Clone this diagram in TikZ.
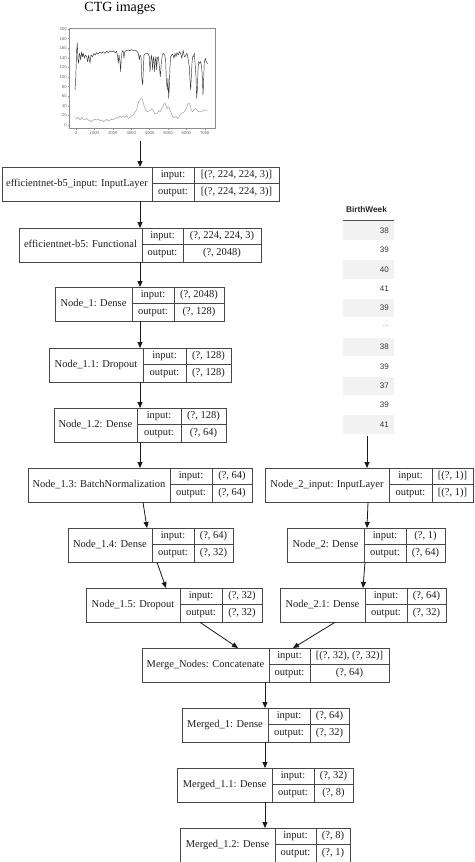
\documentclass[tikz,border=0pt]{standalone}
\usepackage{fontspec}
\setmainfont{Liberation Serif}
\newfontfamily\sansf{Liberation Sans}
\usetikzlibrary{arrows.meta}
\tikzset{
  boxline/.style={draw=black!72, line width=0.8pt},
  txt/.style={inner sep=0pt, font=\fontsize{10.5}{12}\selectfont, text=black!88, text height=7.2pt, text depth=2.3pt},
  arr/.style={draw=black!90, line width=0.8pt, -{Triangle[length=6pt,width=5pt]}},
  ticklab/.style={inner sep=0pt, font=\sansf\fontsize{4.2}{5}\selectfont, text=black!60},
  rowlab/.style={inner sep=0pt, anchor=east, font=\sansf\fontsize{8}{9}\selectfont, text=black!80},
  rowfill/.style={fill=black!5},
}
\newcommand\layer[9]{%
  \node[boxline, anchor=north west, minimum width={#6pt-#2pt}, minimum height=33.5pt, inner sep=0pt] (#1) at (#2,#3) {};
  \draw[boxline] (#4,#3) -- (#4,{#3+33.5}) (#5,#3) -- (#5,{#3+33.5}) (#4,{#3+16.75}) -- (#6,{#3+16.75});
  \node[txt] (#1-t) at ({(#2+#4)/2},{#3+16.75}) {#7};
  \node[txt] (#1-il) at ({(#4+#5)/2},{#3+8.5}) {input:};
  \node[txt] (#1-ol) at ({(#4+#5)/2},{#3+25.2}) {output:};
  \node[txt] (#1-iv) at ({(#5+#6)/2},{#3+8.5}) {#8};
  \node[txt] (#1-ov) at ({(#5+#6)/2},{#3+25.2}) {#9};
}
\begin{document}
\begin{tikzpicture}[x=1pt,y=-1pt]
\useasboundingbox[fill=white] (0,0) rectangle (474,862);

% title
\node[inner sep=0pt, font=\fontsize{14}{16}\selectfont] (title) at (120,8) {CTG images};

% ---- chart ----
\draw[black!45, line width=0.5pt] (69.5,28) rectangle (215.5,128);
\foreach \v in {0,20,...,200}{
  \draw[black!45, line width=0.4pt] (69.5,{125-0.48*\v}) -- (67.8,{125-0.48*\v});
  \node[ticklab, anchor=east] (yl\v) at (66.8,{125-0.48*\v}) {\v};
}
\foreach \k in {0,...,7}{
  \draw[black!45, line width=0.4pt] ({76+18.4*\k},128) -- ({76+18.4*\k},129.7);
  \pgfmathtruncatemacro\lab{1000*\k}
  \node[ticklab] (xl\k) at ({76+18.4*\k},133) {\lab};
}
\begin{scope}[shift={(50pt,-30pt)}, x=0.3333pt, y=-0.3333pt]
\draw[black!35, line width=0.55pt, line join=round] (75,263) -- (80,267) -- (85,262) -- (90,270) -- (95,262) -- (100,268) -- (105,270) -- (110,265) -- (115,270) -- (120,272) -- (125,275) -- (130,270) -- (135,268) -- (140,270) -- (145,268) -- (150,272) -- (155,270) -- (160,275) -- (165,272) -- (170,268) -- (175,272) -- (180,270) -- (185,268) -- (190,270) -- (195,265) -- (200,262) -- (205,265) -- (210,258) -- (215,262) -- (220,258) -- (225,262) -- (230,256) -- (235,265) -- (240,262) -- (245,258) -- (250,255) -- (255,245) -- (260,240) -- (263,225) -- (266,215) -- (270,210) -- (273,205) -- (276,207) -- (279,215) -- (283,230) -- (287,240) -- (292,245) -- (297,243) -- (302,240) -- (306,236) -- (310,242) -- (314,252) -- (318,250) -- (322,248) -- (326,242) -- (330,245) -- (334,238) -- (338,230) -- (342,222) -- (345,220) -- (348,228) -- (352,235) -- (355,230) -- (358,234) -- (362,245) -- (366,255) -- (370,263) -- (374,262) -- (378,260) -- (382,265) -- (386,262) -- (390,255) -- (394,250) -- (398,248) -- (402,246) -- (406,240) -- (410,232) -- (414,222) -- (418,220) -- (421,228) -- (424,240) -- (428,245) -- (432,238) -- (436,236) -- (440,238) -- (444,244) -- (448,245) -- (452,244) -- (456,244) -- (460,242) -- (464,240) -- (468,240) -- (472,242);
\draw[black!80, line width=0.45pt, line join=round] (75,180) -- (77,150) -- (78,120) -- (80,60) -- (82,40) -- (84,90) -- (86,100) -- (88,70) -- (90,75) -- (92,90) -- (95,65) -- (97,80) -- (100,70) -- (103,85) -- (106,75) -- (110,80) -- (113,95) -- (116,75) -- (120,100) -- (123,75) -- (128,80) -- (132,70) -- (136,75) -- (140,68) -- (145,72) -- (150,66) -- (155,70) -- (160,65) -- (165,70) -- (170,64) -- (175,68) -- (180,62) -- (185,66) -- (190,62) -- (195,68) -- (200,64) -- (203,80) -- (205,100) -- (207,75) -- (210,95) -- (212,125) -- (214,80) -- (217,62) -- (220,66) -- (222,85) -- (224,65) -- (228,62) -- (235,60) -- (240,62) -- (245,59) -- (250,62) -- (255,60) -- (260,63) -- (265,70) -- (268,90) -- (270,75) -- (273,80) -- (275,135) -- (276,150) -- (278,165) -- (280,120) -- (282,75) -- (285,72) -- (290,70) -- (295,72) -- (298,80) -- (300,125) -- (302,100) -- (304,75) -- (306,90) -- (308,120) -- (310,80) -- (312,90) -- (314,125) -- (316,90) -- (318,80) -- (320,120) -- (322,85) -- (325,80) -- (328,110) -- (331,140) -- (334,100) -- (337,75) -- (340,70) -- (344,75) -- (347,90) -- (349,150) -- (352,180) -- (354,145) -- (356,205) -- (358,170) -- (360,110) -- (362,80) -- (365,75) -- (368,72) -- (372,85) -- (375,70) -- (378,80) -- (381,68) -- (385,75) -- (388,65) -- (392,70) -- (395,85) -- (398,70) -- (400,62) -- (403,80) -- (405,80) -- (408,75) -- (411,70) -- (414,85) -- (418,110) -- (420,150) -- (422,180) -- (424,140) -- (426,100) -- (428,80) -- (430,80) -- (433,70) -- (436,110) -- (438,140) -- (440,205) -- (442,180) -- (444,120) -- (446,95) -- (449,100) -- (452,95) -- (455,110) -- (457,140) -- (459,195) -- (461,150) -- (463,95) -- (466,85) -- (469,95) -- (472,100) -- (474,100);
\end{scope}
\coordinate (chartout) at (140,141);

% ---- table ----
\node[inner sep=0pt, font=\sansf\bfseries\fontsize{8.3}{9}\selectfont, text=black!85] (thead) at (366.5,210) {BirthWeek};
\draw[black!70, line width=1pt] (343,220) -- (394,220);
\foreach \i in {0,2,4,6,8,10}{
  \fill[rowfill] (343,{230.5+19.4*\i-9.2}) rectangle (394,{230.5+19.4*\i+9.2});
}
\node[rowlab] (r0) at (389,230.5) {38};
\node[rowlab] (r1) at (389,249.9) {39};
\node[rowlab] (r2) at (389,269.3) {40};
\node[rowlab] (r3) at (389,288.7) {41};
\node[rowlab] (r4) at (389,308.1) {39};
\node[rowlab, text=black!40] (r5) at (389,326.5) {...};
\node[rowlab] (r6) at (389,346.9) {38};
\node[rowlab] (r7) at (389,366.3) {39};
\node[rowlab] (r8) at (389,385.7) {37};
\node[rowlab] (r9) at (389,405.1) {39};
\node[rowlab] (r10) at (389,424.5) {41};
\coordinate (tabout) at (367,436);

% ---- layers ----
\layer{b0}{2}{167}{152}{194}{279}{efficientnet-b5\_input: InputLayer}{[(?, 224, 224, 3)]}{[(?, 224, 224, 3)]}
\layer{b1}{19}{228}{142}{183}{261}{efficientnet-b5: Functional}{(?, 224, 224, 3)}{(?, 2048)}
\layer{n1}{55}{287}{132}{174}{224}{Node\_1: Dense}{(?, 2048)}{(?, 128)}
\layer{n11}{49}{348}{143}{186}{231}{Node\_1.1: Dropout}{(?, 128)}{(?, 128)}
\layer{n12}{54}{408}{137}{181}{226}{Node\_1.2: Dense}{(?, 128)}{(?, 64)}
\layer{n13}{28}{468}{170}{212}{252}{Node\_1.3: BatchNormalization}{(?, 64)}{(?, 64)}
\layer{n14}{68}{528}{152}{194}{233}{Node\_1.4: Dense}{(?, 64)}{(?, 32)}
\layer{n15}{86}{588}{180}{222}{262}{Node\_1.5: Dropout}{(?, 32)}{(?, 32)}
\layer{n2i}{265}{468}{389}{432}{473}{Node\_2\_input: InputLayer}{[(?, 1)]}{[(?, 1)]}
\layer{n2}{287}{528}{364}{406}{445}{Node\_2: Dense}{(?, 1)}{(?, 64)}
\layer{n21}{280}{588}{365}{407}{446}{Node\_2.1: Dense}{(?, 64)}{(?, 32)}
\layer{m}{142}{648}{269}{310}{389}{Merge\_Nodes: Concatenate}{[(?, 32), (?, 32)]}{(?, 64)}
\layer{m1}{182}{708}{268}{310}{349}{Merged\_1: Dense}{(?, 64)}{(?, 32)}
\layer{m11}{177}{768}{272}{314}{353}{Merged\_1.1: Dense}{(?, 32)}{(?, 8)}
\layer{m12}{180}{828}{275}{316}{350}{Merged\_1.2: Dense}{(?, 8)}{(?, 1)}

% ---- connectors ----
\draw[arr] (chartout) -- ([xshift=138pt]b0.north west);
\draw[arr] ([xshift=138pt]b0.south west) -- ([xshift=121pt]b1.north west);
\draw[arr] ([xshift=121pt]b1.south west) -- ([xshift=85pt]n1.north west);
\draw[arr] ([xshift=85pt]n1.south west) -- ([xshift=91pt]n11.north west);
\draw[arr] ([xshift=91pt]n11.south west) -- ([xshift=86pt]n12.north west);
\draw[arr] ([xshift=86pt]n12.south west) -- ([xshift=112pt]n13.north west);
\draw[arr] ([xshift=115pt]n13.south west) -- ([xshift=79pt]n14.north west);
\draw[arr] ([xshift=89pt]n14.south west) -- ([xshift=80pt]n15.north west);
\draw[arr] ([xshift=114pt]n15.south west) -- ([xshift=96pt]m.north west);
\draw[arr] (tabout) -- ([xshift=102pt]n2i.north west);
\draw[arr] ([xshift=103pt]n2i.south west) -- ([xshift=80pt]n2.north west);
\draw[arr] ([xshift=78pt]n2.south west) -- ([xshift=83pt]n21.north west);
\draw[arr] ([xshift=55pt]n21.south west) -- ([xshift=151pt]m.north west);
\draw[arr] ([xshift=123pt]m.south west) -- ([xshift=83pt]m1.north west);
\draw[arr] ([xshift=83pt]m1.south west) -- ([xshift=88pt]m11.north west);
\draw[arr] ([xshift=88pt]m11.south west) -- ([xshift=85pt]m12.north west);
\end{tikzpicture}
\end{document}
